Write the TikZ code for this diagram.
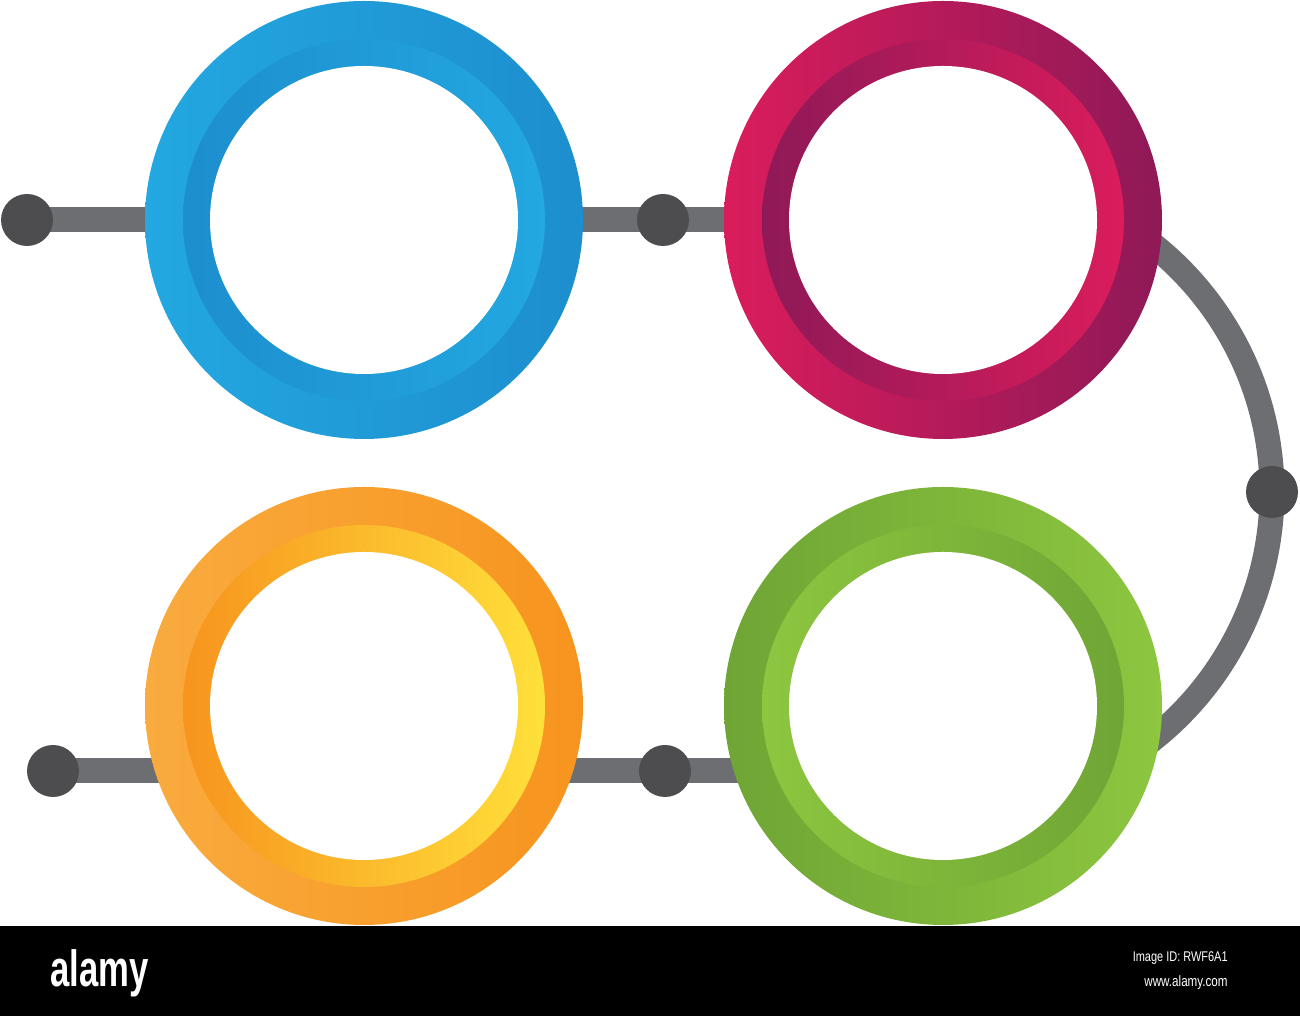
\documentclass[tikz,border=0pt]{standalone}
\usepackage{fontspec}
\setmainfont{Liberation Sans}
\newfontfamily\narrowfont[FakeStretch=0.78]{Liberation Sans}
\newfontfamily\logofont[FakeStretch=0.68]{Liberation Sans}
\usetikzlibrary{backgrounds}

\definecolor{wiregray}{HTML}{6D6E71}
\definecolor{jointgray}{HTML}{4D4D4F}
\definecolor{blueA}{HTML}{23A8E1}
\definecolor{blueB}{HTML}{1D8ECE}
\definecolor{pinkA}{HTML}{DA1C5C}
\definecolor{pinkB}{HTML}{8F1957}
\definecolor{orangeA}{HTML}{F9AB3F}
\definecolor{orangeB}{HTML}{F7941E}
\definecolor{orangeC}{HTML}{FFE03A}
\definecolor{greenA}{HTML}{6FA535}
\definecolor{greenB}{HTML}{8DC63F}

\newcommand{\colorring}[5]{

\begin{scope}[shift={#1}]
	\shade[left color=#2, right color=#3] (0,0) circle (219);
	\shade[left color=#4, right color=#5] (0,0) circle (181);
	\fill[white] (0,0) circle (154);
\end{scope}

}

\begin{document}
\begin{tikzpicture}[x=0.2mm, y=0.2mm,
	wire/.style={draw=wiregray, line width=5mm},
	joint/.style={circle, fill=jointgray, minimum size=10.4mm, inner sep=0pt}]

	\useasboundingbox (0,0) rectangle (1300,1016);

	\coordinate (blueC) at (364,796);
	\coordinate (pinkC) at (943,796);
	\coordinate (orangeC) at (364,310);
	\coordinate (greenC) at (943,310);

	\node[joint] (startTop) at (27,796) {};
	\node[joint] (midTop) at (663,796) {};
	\node[joint] (turn) at (1272,524) {};
	\node[joint] (midBot) at (665,245) {};
	\node[joint] (startBot) at (53,245) {};

	\begin{scope}[on background layer]
		\draw[wire] (startTop.center) -- (midTop.center) -- (pinkC);
		\draw[wire] (turn.center) arc (0:57:316);
		\draw[wire] (turn.center) arc (0:-57:316);
		\draw[wire] (startBot.center) -- (midBot.center) -- (greenC |- midBot);
	\end{scope}

	\colorring{(blueC)}{blueA}{blueB}{blueB}{blueA}
	\colorring{(pinkC)}{pinkA}{pinkB}{pinkB}{pinkA}
	\colorring{(orangeC)}{orangeA}{orangeB}{orangeB}{orangeC}
	\colorring{(greenC)}{greenA}{greenB}{greenB}{greenA}

	% bottom bar
	\fill[black] (0,0) rectangle (1300,90);
	\node[anchor=base west, inner sep=0pt, text=white, font=\logofont\bfseries\fontsize{29}{29}\selectfont] (logo) at (50,29) {alamy};
	\node[anchor=base east, inner sep=0pt, text=white, font=\narrowfont\fontsize{8}{8}\selectfont] (imageid) at (1228,54) {Image ID: RWF6A1};
	\node[anchor=base east, inner sep=0pt, text=white, font=\narrowfont\fontsize{8.5}{8.5}\selectfont] (site) at (1228,29) {www.alamy.com};

\end{tikzpicture}
\end{document}
